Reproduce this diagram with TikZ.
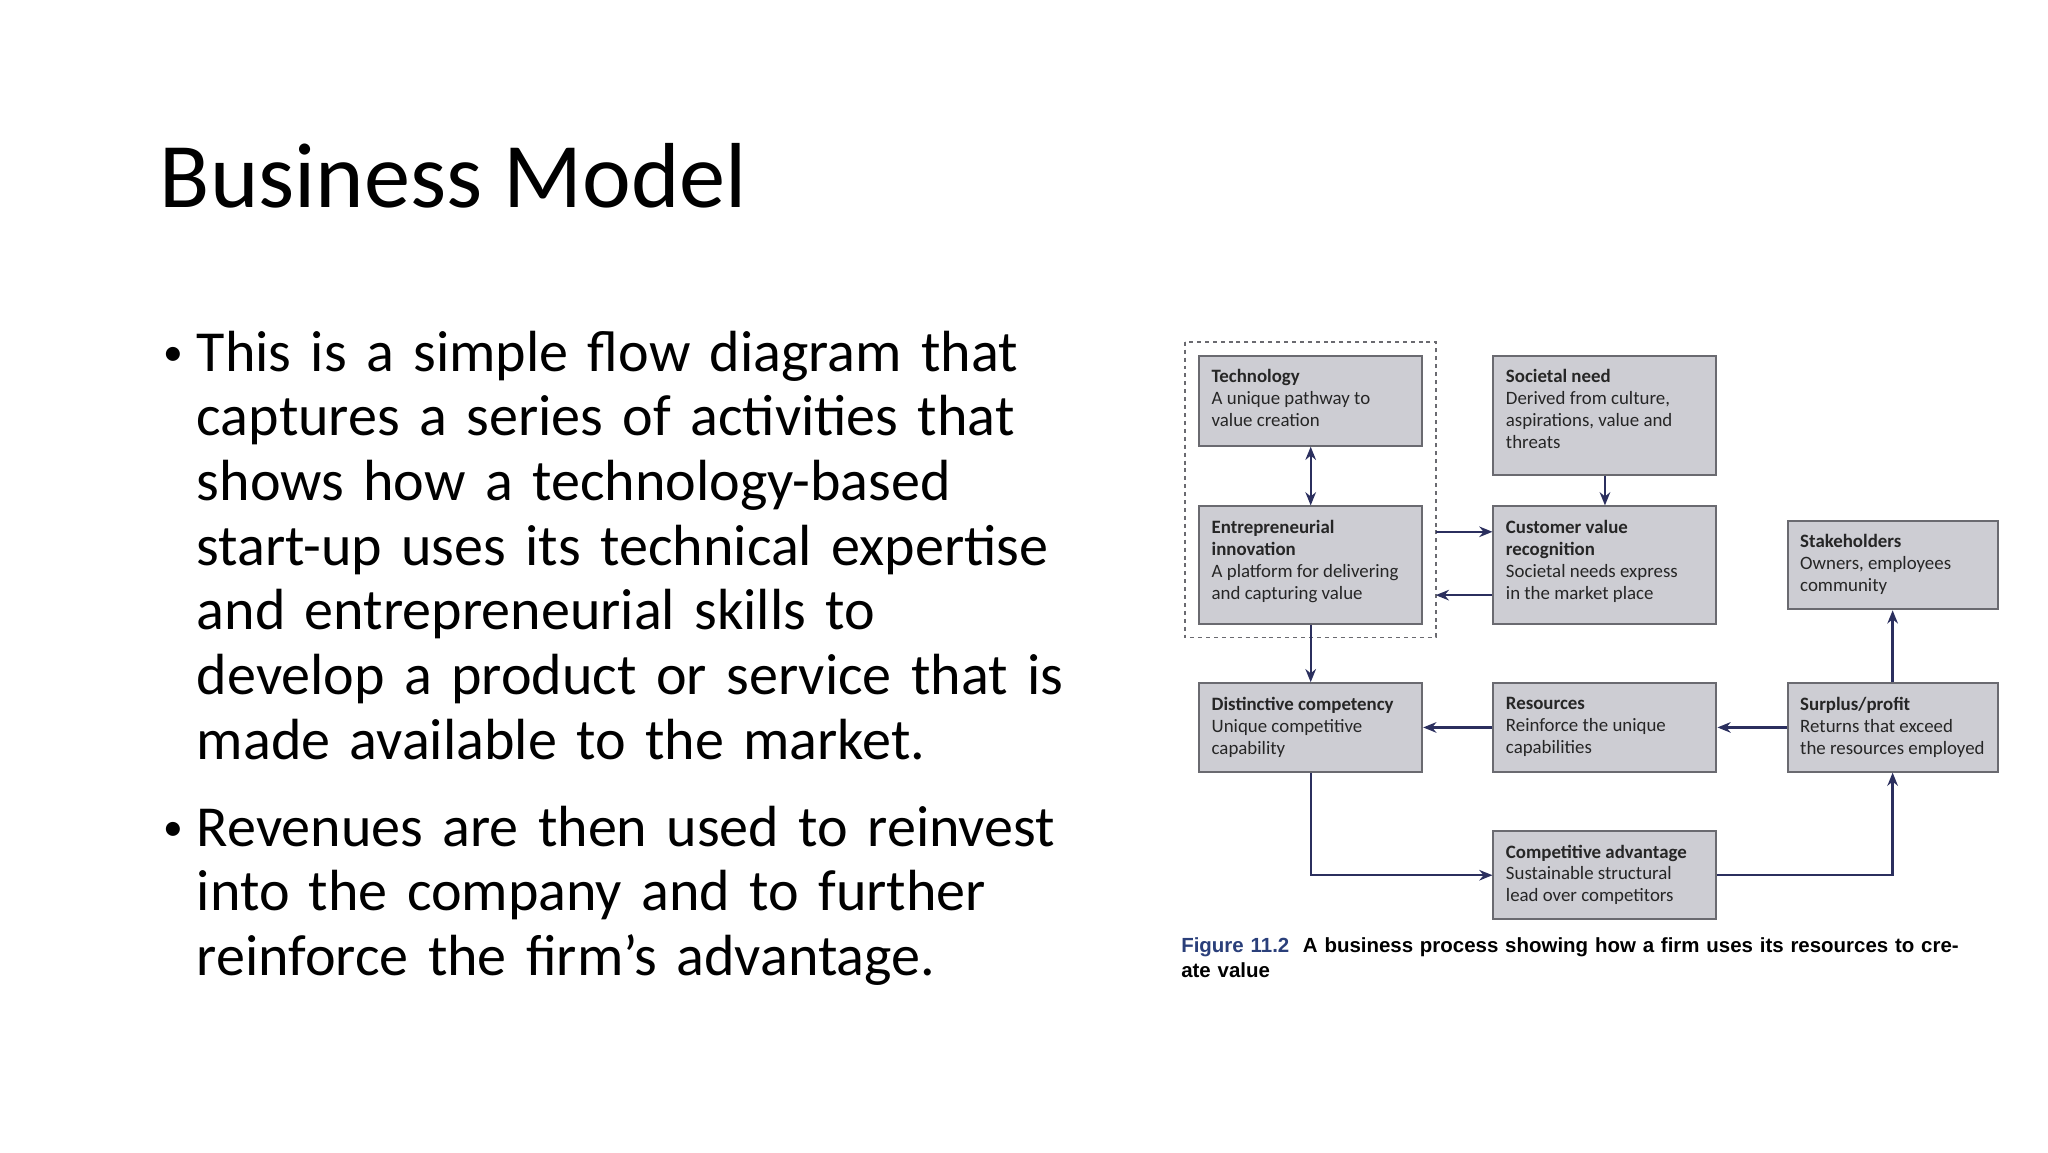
\documentclass[tikz,border=0pt]{standalone}
\usepackage{fontspec}
\setmainfont{Carlito}
\newfontfamily\capfont{Liberation Sans}
\usetikzlibrary{arrows.meta,calc}
\definecolor{boxfill}{HTML}{CDCDD3}
\definecolor{boxline}{HTML}{6A6A70}
\definecolor{arr}{HTML}{2B2F5E}
\definecolor{figblue}{HTML}{2A3F7A}
\tikzset{
 box/.style={draw=boxline,line width=1.5pt,fill=boxfill,rectangle,inner sep=0,anchor=north west},
 btxt/.style={anchor=north west,align=left,inner sep=0,font=\fontsize{14.3}{16.6}\selectfont,text=black!85},
 con/.style={draw=arr,line width=1.8pt,-{Stealth[length=10pt,width=8pt]}},
}
\begin{document}
\begin{tikzpicture}[x=1pt,y=-1pt]
\useasboundingbox (0,0) rectangle (1552,873);
\fill[white] (0,0) rectangle (1552,873);
\node[anchor=base west,inner sep=0,font=\fontsize{70}{80}\selectfont] (title) at (121,157) {Business Model};
\node[anchor=north west,inner sep=0,text width=720pt,align=left,font=\fontsize{44}{49}\selectfont] (bul) at (121,232) {%
\begin{list}{{\fontsize{30}{30}\selectfont\raisebox{4pt}{\textbullet}}}{\leftmargin=28pt\labelsep=10pt\itemsep=17pt\parsep=0pt\topsep=0pt}\raggedright
\item This is a simple flow diagram that captures a series of activities that shows how a technology-based start-up uses its technical expertise and entrepreneurial skills to\\ develop a product or service that is made available to the market.
\item Revenues are then used to reinvest into the company and to further reinforce the firm’s advantage.
\end{list}};
% dashed group
\draw[boxline,dashed,line width=1.2pt] (898,259) rectangle (1088,483);
\coordinate (dR1) at (1088,403);
\coordinate (dR2) at (1088,451);
% boxes
\newcommand{\mybox}[7]{%
 \node[box,minimum width=#4pt,minimum height=#5pt] (#1) at (#2,#3) {};
 \node[btxt] (#1t) at ($(#1.north west)+(10,11)$) {\bfseries #6\\\mdseries #7};}
\mybox{tech}{908}{269}{169}{68}{Technology}{A unique pathway to\\value creation}
\mybox{soc}{1131}{269}{169}{90}{Societal need}{Derived from culture,\\aspirations, value and\\threats}
\mybox{ent}{908}{383}{169}{89}{Entrepreneurial\\\bfseries innovation}{A platform for delivering\\and capturing value}
\mybox{cust}{1131}{383}{169}{89}{Customer value\\\bfseries recognition}{Societal needs express\\in the market place}
\mybox{stake}{1354}{394}{159}{67}{Stakeholders}{Owners, employees\\community}
\mybox{dist}{908}{517}{169}{67}{Distinctive competency}{Unique competitive\\capability}
\mybox{res}{1131}{517}{169}{67}{Resources}{Reinforce the unique\\capabilities}
\mybox{surp}{1354}{517}{159}{67}{Surplus/profit}{Returns that exceed\\the resources employed}
\mybox{comp}{1131}{629}{169}{67}{Competitive advantage}{Sustainable structural\\lead over competitors}
% connectors
\draw[con,{Stealth[length=10pt,width=8pt]}-{Stealth[length=10pt,width=8pt]}] (tech.south) -- (ent.north);
\draw[con] (soc.south) -- (cust.north);
\draw[con] (dR1) -- (dR1 -| cust.west);
\draw[con] (dR2 -| cust.west) -- (dR2);
\draw[con] (ent.south) -- (dist.north);
\draw[con] (res.west) -- (dist.east);
\draw[con] (surp.west) -- (res.east);
\draw[con] (surp.north) -- (stake.south);
\draw[con] (dist.south) |- (comp.west);
\draw[con] (comp.east) -| (surp.south);
% caption
\node[anchor=north west,inner sep=0,text width=600pt,align=left,font=\capfont\bfseries\fontsize{15.5}{19}\selectfont] (cap) at (895,710) {\textcolor{figblue}{Figure 11.2}\ \ A business process showing how a firm uses its resources to create value};
\end{tikzpicture}
\end{document}
